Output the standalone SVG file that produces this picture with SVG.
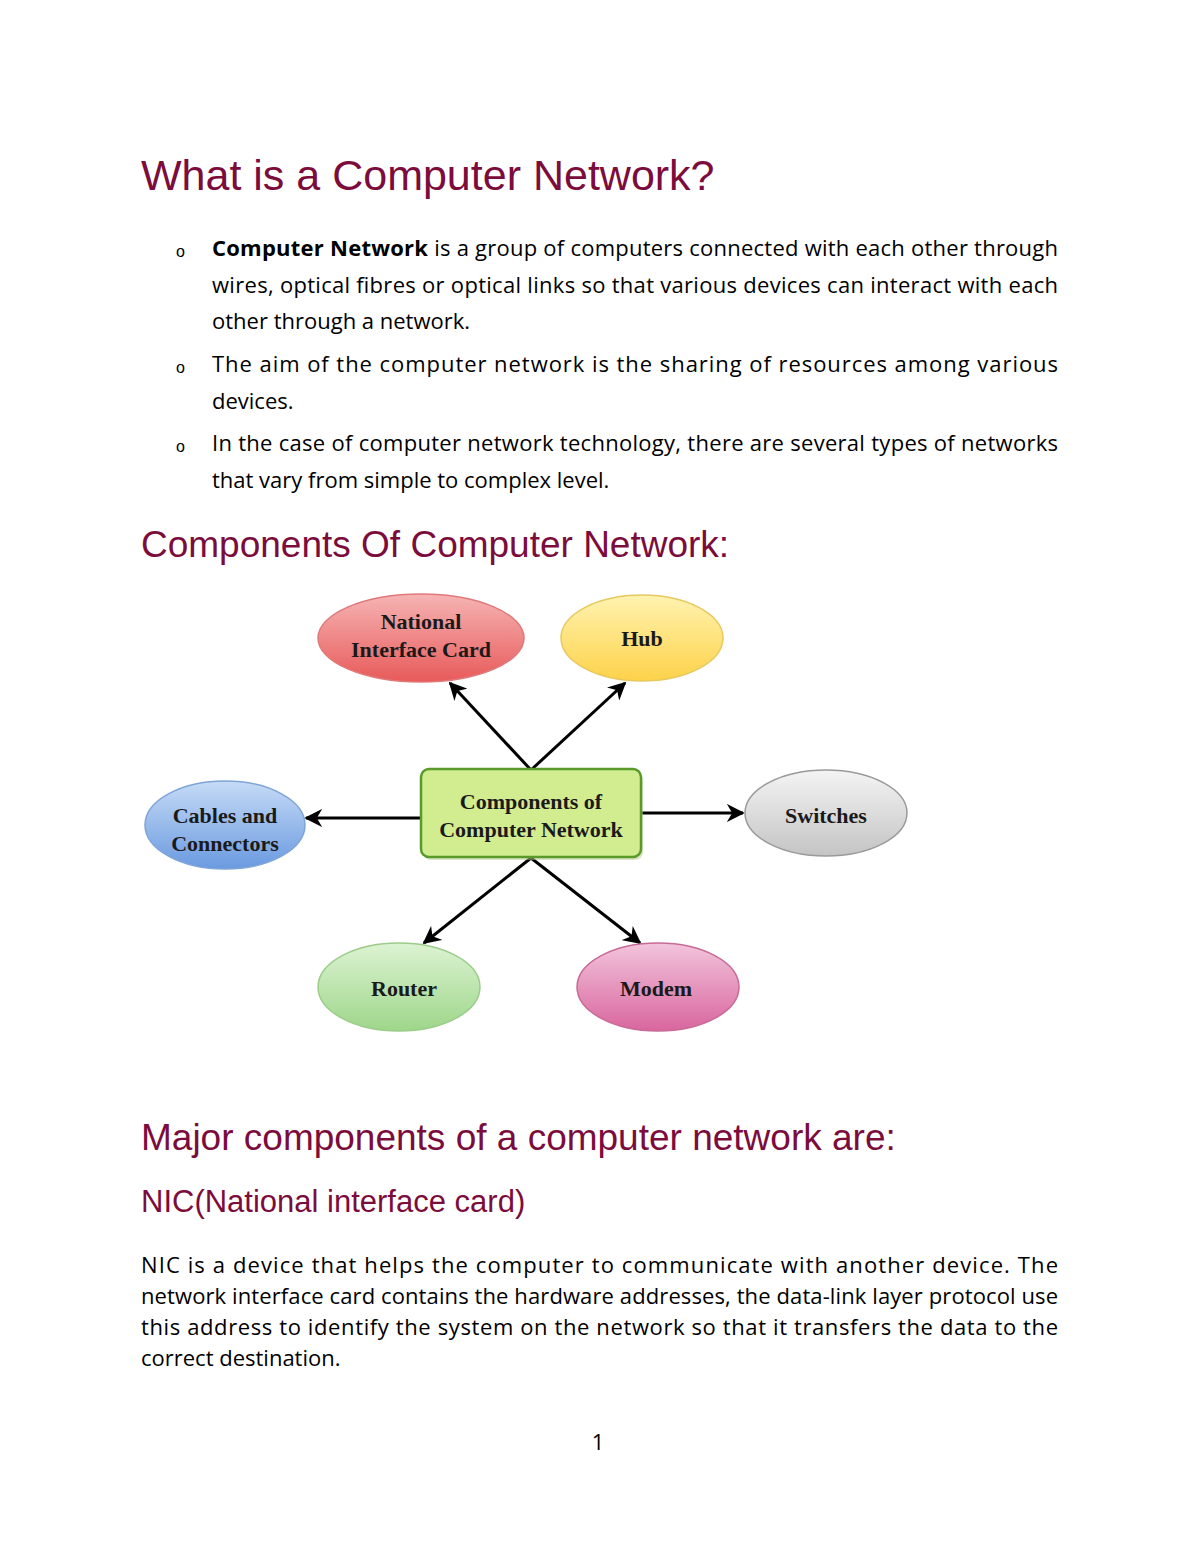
<svg xmlns="http://www.w3.org/2000/svg" width="1200" height="1553" viewBox="0 0 1200 1553">
<style>
.h{font-family:"Liberation Sans",Arial,sans-serif;fill:#7b0c3c}
.b{font-family:"Open Sans","Liberation Sans",sans-serif;font-size:22px;fill:#000}
.bul{font-family:"Liberation Sans",sans-serif;font-size:16px;fill:#000}
.n{font-family:"Liberation Serif","Times New Roman",serif;font-weight:bold;font-size:22px;fill:#1a1a1a;text-anchor:middle}
.e{stroke-width:1.5}
.c{stroke:#000;stroke-width:3;fill:none;marker-end:url(#ah)}
</style>
<defs>
<marker id="ah" viewBox="0 0 10 10" refX="9" refY="5" markerWidth="6" markerHeight="6" orient="auto"><path d="M0,0 L10,5 L0,10 L3,5 z" fill="#000"/></marker>
<linearGradient id="gr" x1="0" y1="0" x2="0" y2="1"><stop offset="0" stop-color="#f6b4b4"/><stop offset="1" stop-color="#e85a5a"/></linearGradient>
<linearGradient id="gy" x1="0" y1="0" x2="0" y2="1"><stop offset="0" stop-color="#fff3b0"/><stop offset="1" stop-color="#fdd24a"/></linearGradient>
<linearGradient id="gb" x1="0" y1="0" x2="0" y2="1"><stop offset="0" stop-color="#c6dbf6"/><stop offset="1" stop-color="#6a9ae0"/></linearGradient>
<linearGradient id="gs" x1="0" y1="0" x2="0" y2="1"><stop offset="0" stop-color="#f4f4f4"/><stop offset="1" stop-color="#c4c4c4"/></linearGradient>
<linearGradient id="gg" x1="0" y1="0" x2="0" y2="1"><stop offset="0" stop-color="#dcf3d2"/><stop offset="1" stop-color="#9ed68a"/></linearGradient>
<linearGradient id="gm" x1="0" y1="0" x2="0" y2="1"><stop offset="0" stop-color="#f2c4dc"/><stop offset="1" stop-color="#d9669e"/></linearGradient>
</defs>
<rect width="1200" height="1553" fill="#fff"/>
<text class="h" x="141" y="190" font-size="43">What is a Computer Network?</text>
<g class="bul"><text x="176" y="257">o</text><text x="176" y="373">o</text><text x="176" y="452">o</text></g>
<text class="b" x="212" y="256" textLength="846" lengthAdjust="spacing"><tspan font-weight="bold">Computer Network</tspan> is a group of computers connected with each other through</text>
<text class="b" x="212" y="293" textLength="846" lengthAdjust="spacing">wires, optical fibres or optical links so that various devices can interact with each</text>
<text class="b" x="212" y="329">other through a network.</text>
<text class="b" x="212" y="372" textLength="846" lengthAdjust="spacing">The aim of the computer network is the sharing of resources among various</text>
<text class="b" x="212" y="409">devices.</text>
<text class="b" x="212" y="451" textLength="846" lengthAdjust="spacing">In the case of computer network technology, there are several types of networks</text>
<text class="b" x="212" y="488">that vary from simple to complex level.</text>
<text class="h" x="141" y="557" font-size="37">Components Of Computer Network:</text>
<g id="connectors">
<line class="c" x1="531" y1="770" x2="450" y2="683"/>
<line class="c" x1="531" y1="770" x2="625" y2="683"/>
<line class="c" x1="421" y1="818" x2="306" y2="818"/>
<line class="c" x1="641" y1="813" x2="743" y2="813"/>
<line class="c" x1="531" y1="858" x2="424" y2="943"/>
<line class="c" x1="531" y1="858" x2="640" y2="943"/>
</g>
<g id="nic"><ellipse class="e" cx="421" cy="638" rx="103" ry="44" fill="url(#gr)" stroke="#e07a7a"/><text class="n" x="421" y="629">National</text><text class="n" x="421" y="657">Interface Card</text></g>
<g id="hub"><ellipse class="e" cx="642" cy="638" rx="81" ry="43" fill="url(#gy)" stroke="#e8c860"/><text class="n" x="642" y="646">Hub</text></g>
<g id="cables"><ellipse class="e" cx="225" cy="825" rx="80" ry="44" fill="url(#gb)" stroke="#7ea4d8"/><text class="n" x="225" y="823">Cables and</text><text class="n" x="225" y="851">Connectors</text></g>
<g id="center"><rect x="423" y="772" width="220" height="88" rx="8" fill="#b8c98a" opacity="0.5"/><rect x="421" y="769" width="220" height="88" rx="8" fill="#d2ec90" stroke="#5a9a2a" stroke-width="2.5"/><text class="n" x="531" y="809">Components of</text><text class="n" x="531" y="837">Computer Network</text></g>
<g id="switches"><ellipse class="e" cx="826" cy="813" rx="81" ry="43" fill="url(#gs)" stroke="#9a9a9a"/><text class="n" x="826" y="823">Switches</text></g>
<g id="router"><ellipse class="e" cx="399" cy="987" rx="81" ry="44" fill="url(#gg)" stroke="#9ccc8a"/><text class="n" x="404" y="996">Router</text></g>
<g id="modem"><ellipse class="e" cx="658" cy="987" rx="81" ry="44" fill="url(#gm)" stroke="#c86a96"/><text class="n" x="656" y="996">Modem</text></g>
<text class="h" x="141" y="1150" font-size="37">Major components of a computer network are:</text>
<text class="h" x="141" y="1212" font-size="31">NIC(National interface card)</text>
<text class="b" x="141" y="1273" textLength="917" lengthAdjust="spacing">NIC is a device that helps the computer to communicate with another device. The</text>
<text class="b" x="141" y="1304" textLength="917" lengthAdjust="spacing">network interface card contains the hardware addresses, the data-link layer protocol use</text>
<text class="b" x="141" y="1335" textLength="917" lengthAdjust="spacing">this address to identify the system on the network so that it transfers the data to the</text>
<text class="b" x="141" y="1366">correct destination.</text>
<text class="b" x="598" y="1450" font-size="16" text-anchor="middle">1</text>
</svg>
